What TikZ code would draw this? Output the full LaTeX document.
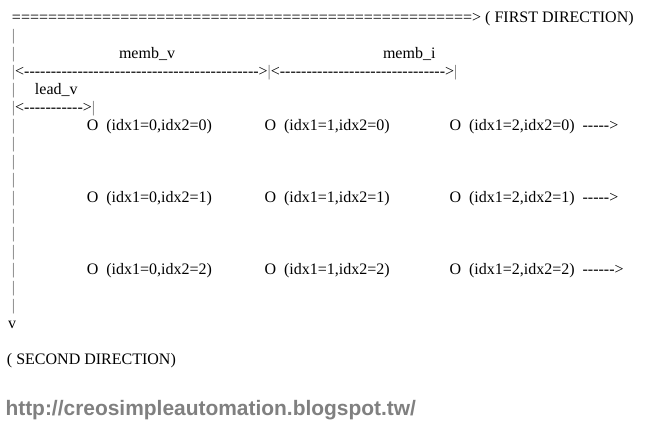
\documentclass[tikz,border=0pt]{standalone}
\usepackage{fontspec}
\newfontfamily\asc{Liberation Serif}
\newfontfamily\urlfam{Liberation Sans}
\newcommand\ascf{\asc\fontsize{12}{14}\selectfont}
\newcommand\rpt[2]{\ifnum#1>0 #2\expandafter\rpt\expandafter{\the\numexpr#1-1\relax}{#2}\fi}
\newcommand\vbr{{\color{black!55}|}}
\tikzset{
  txt/.style={inner sep=0pt, outer sep=0pt, anchor=base west, font=\ascf, text=black},
  barline/.style={txt},
  urltxt/.style={inner sep=0pt, outer sep=0pt, anchor=base west,
     font=\urlfam\bfseries\fontsize{15.7}{18}\selectfont, text=black!50}
}
\begin{document}
\begin{tikzpicture}[x=0.75pt,y=-0.75pt]
\fill[white] (0,0) rectangle (647,430);
\useasboundingbox (0,0) rectangle (647,430);
% first direction
\node[txt] (first) at (12,22) {\rpt{51}{=}> ( FIRST DIRECTION)};
% vertical bar column
\foreach \k in {1,2,4,6,7,8,9,10,11,12,13,14,15,16}{
  \node[barline] (bar\k) at (12,{22+18*\k}) {\vbr};
}
\node[txt] (membv) at (119,58) {memb\_v};
\node[txt] (membi) at (383,58) {memb\_i};
\node[txt] (dimline) at (12,76) {\vbr<\rpt{44}{-}>\vbr<\rpt{31}{-}>\vbr};
\node[txt] (leadv) at (35,94) {lead\_v};
\node[txt] (leadline) at (12,112) {\vbr<\rpt{11}{-}>\vbr};
% rows
\node[txt] (p00) at (86.8,130) {O~~(idx1=0,idx2=0)};
\node[txt] (p10) at (264.5,130) {O~~(idx1=1,idx2=0)};
\node[txt] (p20) at (449.5,130) {O~~(idx1=2,idx2=0)~~\rpt{5}{-}>};
\node[txt] (p01) at (86.8,202) {O~~(idx1=0,idx2=1)};
\node[txt] (p11) at (264.5,202) {O~~(idx1=1,idx2=1)};
\node[txt] (p21) at (449.5,202) {O~~(idx1=2,idx2=1)~~\rpt{5}{-}>};
\node[txt] (p02) at (86.8,274) {O~~(idx1=0,idx2=2)};
\node[txt] (p12) at (264.5,274) {O~~(idx1=1,idx2=2)};
\node[txt] (p22) at (449.5,274) {O~~(idx1=2,idx2=2)~~\rpt{6}{-}>};
% second direction
\node[txt] (vtip) at (8,328) {v};
\node[txt] (second) at (7,364) {( SECOND DIRECTION)};
% url
\node[urltxt] (url) at (5.5,415) {http://creosimpleautomation.blogspot.tw/};
\end{tikzpicture}
\end{document}
